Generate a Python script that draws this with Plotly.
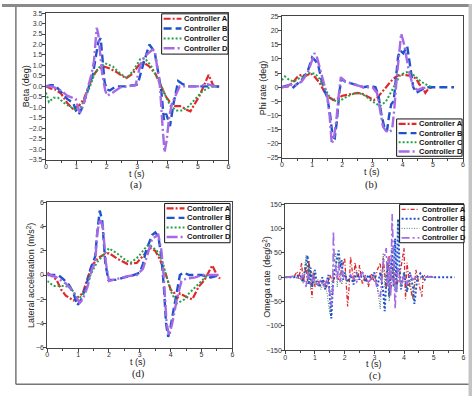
import plotly.graph_objects as go

W, H = 474, 399

# ---------------- data (t in s, value) ----------------
beta_A = [(0,0),(0.15,-0.1),(0.3,-0.15),(0.5,-0.35),(0.7,-0.8),(0.9,-1.1),(1.0,-1.0),(1.1,-0.9),(1.25,-0.6),(1.4,0.0),(1.55,0.5),(1.7,0.8),(1.9,0.95),(2.1,0.85),(2.3,0.7),(2.5,0.5),(2.65,0.4),(2.85,0.6),(3.05,1.0),(3.2,1.15),(3.4,0.95),(3.6,0.6),(3.8,0.0),(3.95,-0.5),(4.1,-0.8),(4.25,-0.95),(4.45,-0.95),(4.6,-1.1),(4.75,-1.2),(4.9,-0.8),(5.05,-0.45),(5.2,0.05),(5.35,0.55),(5.5,0.05),(5.7,-0.05)]
beta_B = [(0,0.0),(0.15,0.05),(0.3,0.05),(0.45,-0.2),(0.7,-0.6),(0.9,-0.8),(1.0,-1.2),(1.08,-1.35),(1.2,-1.0),(1.35,-0.3),(1.45,0.1),(1.55,0.6),(1.65,1.5),(1.72,2.1),(1.8,2.3),(1.86,1.3),(1.93,0.2),(2.0,-0.15),(2.1,-0.2),(2.3,0.0),(2.6,0.0),(2.9,0.05),(3.02,0.1),(3.15,0.8),(3.3,1.6),(3.4,2.0),(3.5,1.8),(3.58,1.6),(3.7,0.6),(3.8,-0.3),(3.88,-1.6),(3.95,-1.3),(4.02,-1.6),(4.08,-1.9),(4.2,-0.8),(4.35,0.25),(4.5,0.1),(4.7,0.0),(5.0,0.0),(5.3,0.0),(5.7,0.0)]
beta_C = [(0,-0.3),(0.1,-0.75),(0.25,-0.55),(0.4,-0.55),(0.6,-0.8),(0.85,-1.0),(1.0,-1.15),(1.1,-1.1),(1.25,-0.7),(1.45,0.0),(1.6,0.6),(1.75,0.9),(1.95,1.1),(2.2,0.95),(2.45,0.6),(2.65,0.4),(2.85,0.7),(3.1,1.3),(3.25,1.35),(3.45,1.0),(3.6,0.6),(3.8,0.0),(3.95,-0.5),(4.1,-0.95),(4.3,-1.15),(4.5,-1.15),(4.7,-0.95),(4.9,-0.6),(5.1,-0.3),(5.3,-0.1),(5.5,0.0),(5.65,0.0)]
beta_D = [(0,0.0),(0.2,0.0),(0.35,-0.1),(0.5,-0.2),(0.7,-0.45),(0.9,-0.55),(0.98,-0.6),(1.05,-1.0),(1.12,-1.25),(1.25,-0.8),(1.4,0.0),(1.5,0.6),(1.58,1.2),(1.63,2.4),(1.67,2.8),(1.72,2.5),(1.78,1.5),(1.85,0.6),(1.95,-0.2),(2.02,-0.45),(2.2,-0.3),(2.45,-0.05),(2.7,0.0),(2.95,0.05),(3.05,0.7),(3.15,1.2),(3.3,1.5),(3.5,1.75),(3.58,1.7),(3.65,1.0),(3.75,0.0),(3.83,-1.8),(3.9,-3.15),(3.97,-2.6),(4.05,-1.5),(4.15,-0.8),(4.25,-0.5),(4.4,0.0),(4.7,0.0),(5.0,0.0),(5.3,0.1),(5.5,0.05),(5.6,0.0)]

phi_A = [(0,0),(0.2,0.3),(0.35,1.5),(0.5,3.5),(0.65,4.5),(0.8,4.0),(0.95,5.0),(1.1,3.5),(1.25,1.5),(1.4,-1.5),(1.55,-3.5),(1.7,-4.5),(1.85,-4.0),(2.0,-3.0),(2.25,-2.5),(2.5,-2.0),(2.7,-2.5),(2.9,-3.8),(3.05,-4.5),(3.15,-3.8),(3.3,-2.0),(3.45,0.0),(3.6,2.0),(3.75,3.5),(3.9,4.5),(4.1,4.3),(4.3,4.0),(4.45,3.0),(4.55,1.0),(4.65,0.0),(4.75,-2.0),(4.85,-0.5),(5.0,0.0)]
phi_B = [(0,0),(0.2,0.5),(0.3,1.0),(0.38,0.0),(0.5,1.0),(0.65,2.5),(0.85,5.5),(1.0,10.5),(1.1,9.5),(1.2,8.0),(1.3,3.0),(1.4,-1.0),(1.5,-3.5),(1.6,-10.0),(1.68,-17.5),(1.75,-18.0),(1.82,-12.0),(1.9,-2.0),(1.97,3.0),(2.1,2.0),(2.4,1.0),(2.7,0.0),(2.95,0.5),(3.1,0.0),(3.2,-3.0),(3.3,-10.0),(3.4,-14.5),(3.48,-15.5),(3.55,-10.0),(3.62,-6.0),(3.7,-5.0),(3.78,3.0),(3.85,11.0),(3.92,13.0),(4.02,12.0),(4.15,14.5),(4.25,8.0),(4.35,0.0),(4.45,-2.0),(4.6,-1.0),(4.8,0.0),(5.0,0.0),(5.3,0.0),(5.7,0.0)]
phi_C = [(0,2.5),(0.1,3.8),(0.25,2.5),(0.4,2.0),(0.55,3.0),(0.75,4.0),(0.9,5.0),(1.1,4.8),(1.25,3.0),(1.4,0.0),(1.55,-3.0),(1.7,-4.5),(1.85,-5.2),(2.05,-4.0),(2.3,-2.5),(2.55,-2.0),(2.75,-3.0),(3.0,-5.0),(3.25,-6.7),(3.45,-5.0),(3.6,-2.0),(3.75,1.0),(3.9,4.0),(4.05,5.0),(4.2,5.5),(4.4,4.0),(4.6,2.0),(4.85,0.5),(5.0,0.0)]
phi_D = [(0,0),(0.15,0.3),(0.28,1.0),(0.36,0.5),(0.5,1.0),(0.65,2.0),(0.85,5.0),(1.0,10.0),(1.08,12.0),(1.15,11.0),(1.25,7.0),(1.35,2.0),(1.5,-3.0),(1.58,-10.0),(1.65,-20.0),(1.72,-18.0),(1.8,-12.0),(1.88,-3.0),(1.95,3.5),(2.1,2.0),(2.4,1.0),(2.7,0.0),(3.0,0.0),(3.15,-2.0),(3.25,-8.0),(3.35,-14.0),(3.45,-15.5),(3.55,-16.0),(3.65,-15.0),(3.72,-8.0),(3.8,3.0),(3.88,12.0),(3.95,19.0),(4.05,15.0),(4.2,6.0),(4.35,0.0),(4.5,-1.0),(4.6,-0.5),(4.8,0.0)]

lat_A = [(0,0.2),(0.1,0.0),(0.3,-0.4),(0.45,-1.2),(0.6,-1.7),(0.85,-2.1),(1.0,-1.8),(1.15,-1.5),(1.3,-0.3),(1.45,0.8),(1.65,1.4),(1.85,1.7),(2.0,1.8),(2.3,1.3),(2.6,0.9),(2.9,1.0),(3.15,1.7),(3.35,2.2),(3.5,2.0),(3.65,1.3),(3.85,0.0),(4.0,-1.2),(4.12,-1.5),(4.2,-2.0),(4.3,-1.5),(4.5,-1.8),(4.7,-2.0),(4.9,-1.0),(5.1,-0.4),(5.35,0.8),(5.5,0.0),(5.6,-0.3)]
lat_B = [(0,0.0),(0.2,0.0),(0.35,0.0),(0.5,-0.3),(0.7,-0.8),(0.85,-1.5),(0.97,-2.5),(1.1,-2.0),(1.25,-1.0),(1.4,0.5),(1.55,1.5),(1.62,3.5),(1.7,5.3),(1.78,4.5),(1.88,1.0),(1.98,-0.4),(2.2,-0.4),(2.5,-0.2),(2.8,0.0),(3.0,0.2),(3.1,0.9),(3.2,2.0),(3.4,3.3),(3.5,3.5),(3.6,3.2),(3.7,1.5),(3.78,-1.0),(3.85,-4.0),(3.92,-5.1),(4.0,-4.2),(4.15,-2.0),(4.3,0.0),(4.42,0.2),(4.6,0.0),(4.8,0.0),(5.0,0.0),(5.3,-0.2),(5.6,0.0)]
lat_C = [(0,-0.5),(0.2,-0.9),(0.55,-0.9),(0.75,-1.0),(0.95,-1.8),(1.05,-1.9),(1.25,-1.2),(1.4,0.0),(1.6,1.0),(1.85,1.7),(2.0,2.2),(2.25,1.8),(2.5,1.3),(2.7,1.0),(2.95,1.5),(3.2,2.3),(3.3,2.5),(3.55,2.0),(3.75,1.0),(3.85,0.0),(4.0,-1.3),(4.2,-2.35),(4.45,-2.0),(4.6,-1.5),(4.8,-1.0),(5.0,-0.5),(5.2,0.0),(5.6,0.0)]
lat_D = [(0,0.1),(0.3,-0.2),(0.6,-0.7),(0.85,-1.4),(1.05,-2.3),(1.15,-2.0),(1.3,-1.0),(1.45,0.5),(1.55,1.0),(1.62,3.5),(1.7,4.6),(1.8,4.0),(1.9,1.0),(2.0,-0.5),(2.3,-0.3),(2.6,-0.1),(2.9,0.0),(3.1,0.5),(3.25,1.7),(3.4,3.0),(3.6,3.3),(3.7,2.0),(3.77,0.0),(3.82,-2.0),(3.87,-4.0),(3.95,-5.0),(4.05,-4.0),(4.2,-2.0),(4.35,-0.5),(4.5,-0.3),(4.8,-0.2),(5.0,0.0),(5.6,0.0)]

omega_A = [(0,0),(0.3,2),(0.4,12),(0.45,-5),(0.55,30),(0.6,-12),(0.7,22),(0.75,-8),(0.8,35),(0.85,-15),(0.9,-42),(0.95,12),(1.0,-20),(1.1,-8),(1.2,-18),(1.3,-5),(1.4,-22),(1.5,5),(1.6,-10),(1.7,5),(1.8,-5),(1.9,15),(2.0,40),(2.05,-10),(2.1,-60),(2.15,-20),(2.2,42),(2.3,-10),(2.35,30),(2.45,-5),(2.5,25),(2.6,-15),(2.7,5),(2.8,-20),(2.9,8),(3.0,-10),(3.1,15),(3.2,30),(3.25,-15),(3.3,40),(3.4,-25),(3.5,45),(3.55,-30),(3.65,30),(3.75,-20),(3.9,20),(4.0,60),(4.05,-45),(4.1,30),(4.2,-20),(4.3,-45),(4.4,15),(4.5,-10),(4.6,-40),(4.65,5),(4.8,0),(5.0,0)]
omega_B = [(0,0),(0.3,0),(0.5,5),(0.6,-10),(0.7,30),(0.75,45),(0.8,-15),(0.85,20),(0.9,-20),(1.0,15),(1.05,-10),(1.15,-20),(1.25,0),(1.35,-25),(1.45,5),(1.5,-40),(1.55,-85),(1.6,-20),(1.65,10),(1.75,40),(1.8,55),(1.85,20),(1.9,35),(1.95,-5),(2.0,10),(2.1,-10),(2.2,5),(2.3,-15),(2.4,10),(2.5,-5),(2.6,10),(2.7,-10),(2.8,5),(2.9,-5),(3.0,10),(3.1,-20),(3.2,10),(3.3,-30),(3.35,-70),(3.4,-10),(3.45,30),(3.5,-40),(3.6,60),(3.65,-20),(3.7,80),(3.75,-30),(3.8,120),(3.85,20),(3.9,-25),(4.0,10),(4.1,-30),(4.2,10),(4.3,-20),(4.35,-55),(4.45,0),(4.55,8),(4.7,-5),(4.8,2),(5.0,0),(5.7,0)]
omega_C = [(0,0),(0.4,3),(0.6,-10),(0.7,45),(0.75,-15),(0.8,30),(0.85,-25),(0.9,10),(1.0,-15),(1.1,-5),(1.2,-25),(1.3,-10),(1.4,-30),(1.5,-75),(1.55,-40),(1.6,20),(1.7,50),(1.75,-20),(1.8,40),(1.9,-15),(2.0,10),(2.1,-10),(2.2,5),(2.4,-5),(2.6,8),(2.8,-10),(3.0,5),(3.1,-20),(3.2,-65),(3.25,-10),(3.3,50),(3.35,-20),(3.45,40),(3.5,-50),(3.6,25),(3.7,-30),(3.8,20),(3.9,-20),(4.0,10),(4.1,-25),(4.2,-5),(4.3,-45),(4.4,5),(4.5,-5),(4.7,2),(5.0,0)]
omega_D = [(0,0),(0.3,2),(0.5,-5),(0.6,5),(0.7,-20),(0.75,10),(0.85,-15),(0.95,5),(1.0,-10),(1.1,-15),(1.2,-5),(1.3,-20),(1.4,-5),(1.5,-30),(1.55,-60),(1.6,-30),(1.62,95),(1.65,40),(1.7,20),(1.75,-5),(1.8,30),(1.85,-10),(1.9,15),(2.0,-5),(2.2,5),(2.4,-10),(2.6,10),(2.8,-10),(3.0,5),(3.1,-25),(3.2,-40),(3.3,30),(3.4,60),(3.45,-20),(3.5,40),(3.55,-40),(3.6,130),(3.65,20),(3.7,-65),(3.75,-10),(3.8,20),(3.9,-20),(4.0,5),(4.1,-15),(4.2,5),(4.3,-5),(4.4,0),(4.6,0),(5.0,0)]

names = ["Controller A", "Controller B", "Controller C", "Controller D"]

# ---------------- styles ----------------
RED, BLUE, GREEN, PURPLE = "#e3262b", "#1f52cc", "#23a14a", "#a56ae6"
style_main = [
    dict(color=RED, width=2.2, dash="7px,2px,2px,2px"),
    dict(color=BLUE, width=2.4, dash="8px,4px"),
    dict(color=GREEN, width=2.0, dash="2px,2px"),
    dict(color=PURPLE, width=2.4, dash="11px,3px,2px,3px"),
]
style_omega = [
    dict(color=RED, width=1.3, dash="4px,2px,1px,2px"),
    dict(color=BLUE, width=2.0, dash="2px,2px"),
    dict(color="#3a7a55", width=0.9, dash="1px,1.5px"),
    dict(color=PURPLE, width=1.6, dash="8px,3px,2px,3px"),
]

def px(x):
    return x / W

def py(y):
    return 1 - y / H

panels = [
    dict(series=[beta_A, beta_B, beta_C, beta_D], styles=style_main, ax="",
         xd=(44.3, 228.3), yd=(9.3, 158.3), yr=(-3.5, 3.5), dt=0.5, fmt=".1f",
         yt="Beta (deg)", ytp=(24, 84), xtp=(136, 173.5), lab="(a)", labp=(135, 184.5),
         leg=(161, 10, 228, 51), row0=15, rowgap=10),
    dict(series=[phi_A, phi_B, phi_C, phi_D], styles=style_main, ax="2",
         xd=(282.3, 465.0), yd=(12.7, 156.7), yr=(-25, 25), dt=5, fmt="d",
         yt="Phi rate (deg)", ytp=(263, 85), xtp=(373, 171.5), lab="(b)", labp=(373, 184.5),
         leg=(398, 117, 464, 155), row0=122, rowgap=9.4),
    dict(series=[lat_A, lat_B, lat_C, lat_D], styles=style_main, ax="3",
         xd=(45.7, 232.3), yd=(201.7, 350.0), yr=(-6, 6), dt=2, fmt="d",
         yt="Lateral acceleration (m/s<sup>2</sup>)", ytp=(29, 276), xtp=(137, 364.5), lab="(d)", labp=(138, 377),
         leg=(164, 203, 230, 243), row0=208, rowgap=9.7),
    dict(series=[omega_A, omega_B, omega_C, omega_D], styles=style_omega, ax="4",
         xd=(285.7, 465.3), yd=(204.0, 352.3), yr=(-150, 150), dt=50, fmt="d",
         yt="Omega rate (deg/s<sup>2</sup>)", ytp=(267, 278), xtp=(375, 366.5), lab="(c)", labp=(376, 378.5),
         leg=(401, 204, 466, 243), row0=209, rowgap=9.7),
]

fig = go.Figure()
shapes = []
annotations = []
layout = {}

tickfont = dict(family="Liberation Sans, Arial, sans-serif", size=7, color="#333")
titlefont = dict(family="Liberation Sans, Arial, sans-serif", size=9, color="#222")

for p in panels:
    ax = p["ax"]
    for ser, st, nm in zip(p["series"], p["styles"], names):
        fig.add_trace(go.Scatter(
            x=[a for a, b in ser], y=[b for a, b in ser], mode="lines", name=nm,
            line=st, xaxis="x" + ax, yaxis="y" + ax, showlegend=False, hoverinfo="skip"))
    common = dict(showline=True, mirror=True, linecolor="#444", linewidth=1,
                  showgrid=False, zeroline=False, ticks="outside", ticklen=3,
                  tickcolor="#444", tickwidth=1, tickfont=tickfont)
    layout["xaxis" + ax] = dict(domain=[px(p["xd"][0]), px(p["xd"][1])], range=[0, 6],
                                dtick=1, tick0=0, anchor="y" + ax, ticklabelstandoff=-3,
                                minor=dict(dtick=0.5, ticks="outside", ticklen=2, tickcolor="#444"),
                                **common)
    layout["yaxis" + ax] = dict(domain=[py(p["yd"][1]), py(p["yd"][0])], range=list(p["yr"]),
                                dtick=p["dt"], tick0=0, tickformat=p["fmt"], anchor="x" + ax,
                                ticklabelstandoff=-2, **common)
    annotations.append(dict(text=p["yt"], x=px(p["ytp"][0]), y=py(p["ytp"][1]), xref="paper", yref="paper",
                            textangle=-90, showarrow=False, font=titlefont, xanchor="center", yanchor="middle"))
    annotations.append(dict(text="t (s)", x=px(p["xtp"][0]), y=py(p["xtp"][1]), xref="paper", yref="paper",
                            showarrow=False, font=titlefont, xanchor="center", yanchor="middle"))
    annotations.append(dict(text=p["lab"], x=px(p["labp"][0]), y=py(p["labp"][1]), xref="paper", yref="paper",
                            showarrow=False, font=dict(family="Liberation Serif, Times New Roman, serif", size=10.5, color="#222"),
                            xanchor="center", yanchor="middle"))
    x0, y0, x1, y1 = p["leg"]
    shapes.append(dict(type="rect", xref="paper", yref="paper", x0=px(x0), x1=px(x1), y0=py(y1), y1=py(y0),
                       line=dict(color="#111", width=1), fillcolor="white", layer="above"))
    for i, (st, nm) in enumerate(zip(p["styles"], names)):
        yy = p["row0"] + i * p["rowgap"]
        shapes.append(dict(type="line", xref="paper", yref="paper", x0=px(x0 + 2), x1=px(x0 + 20),
                           y0=py(yy), y1=py(yy), line=st, layer="above"))
        annotations.append(dict(text="<b>" + nm + "</b>", x=px(x0 + 21), y=py(yy), xref="paper", yref="paper",
                                showarrow=False, xanchor="left", yanchor="middle",
                                font=dict(family="Liberation Sans, Arial, sans-serif", size=7.5, color="#111")))

# outer frame of the figure
shapes.append(dict(type="rect", xref="paper", yref="paper", x0=0, x1=1, y0=py(3), y1=1,
                   line=dict(width=0), fillcolor="#8a8a8a", layer="below"))
shapes.append(dict(type="rect", xref="paper", yref="paper", x0=px(470.5), x1=1, y0=0, y1=1,
                   line=dict(width=0), fillcolor="#c4c4c4", layer="below"))
shapes.append(dict(type="line", xref="paper", yref="paper", x0=px(14), x1=px(14), y0=py(387), y1=py(3),
                   line=dict(color="#777", width=1.5)))
shapes.append(dict(type="line", xref="paper", yref="paper", x0=px(14), x1=px(470.5), y0=py(387), y1=py(387),
                   line=dict(color="#777", width=1.5)))

fig.update_layout(width=W, height=H, margin=dict(l=0, r=0, t=0, b=0),
                  paper_bgcolor="white", plot_bgcolor="white",
                  shapes=shapes, annotations=annotations, **layout)
fig.write_html("out.html", config=dict(displayModeBar=False),
               post_script="document.body.style.margin='0px';document.body.style.overflow='hidden';")
